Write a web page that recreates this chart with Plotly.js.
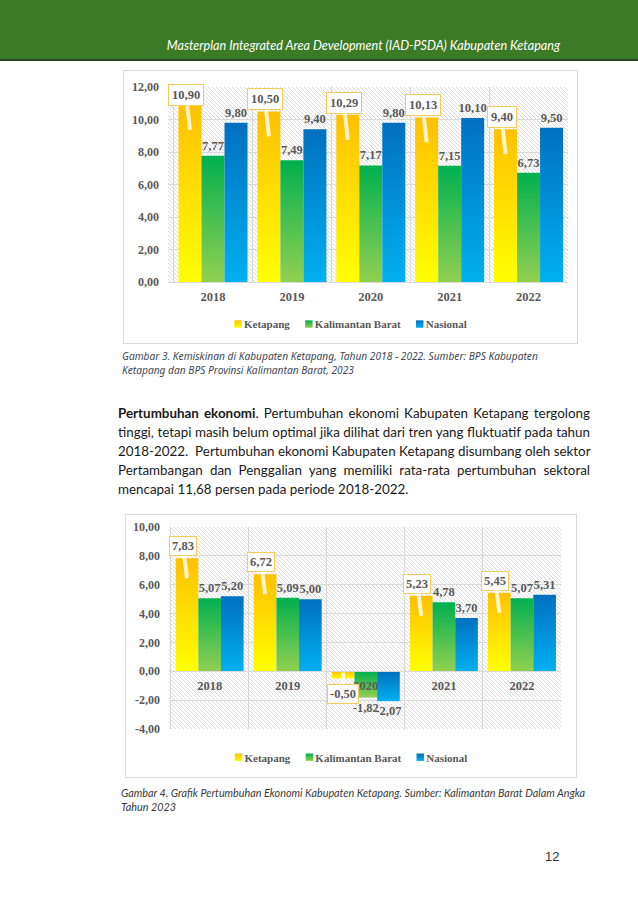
<!DOCTYPE html>
<html>
<head>
<meta charset="utf-8">
<script src="https://cdn.plot.ly/plotly-3.0.1.min.js"></script>
<style>
  html,body{margin:0;padding:0;background:#fff;}
  body{width:638px;height:902px;position:relative;overflow:hidden;}
  #hdr{position:absolute;left:0;top:0;width:638px;height:59px;background:#3c7b25;border-bottom:2px solid #2c432b;}
  #hdr span{position:absolute;right:78px;top:38px;color:#fff;font-family:Lato,sans-serif;font-style:italic;font-size:12.6px;white-space:nowrap;}
  .frame{position:absolute;border:1px solid #d9d9d9;box-sizing:border-box;background:#fff;}
  .plot{position:absolute;}
  .cap{position:absolute;white-space:nowrap;font-style:italic;}
  #cap1{left:122px;top:350px;font-family:"Noto Sans",sans-serif;font-size:10.2px;line-height:13.5px;color:#3e4852;}
  #cap2{left:121px;top:786px;font-family:Lato,sans-serif;font-size:10.8px;line-height:13.5px;color:#3a3a3a;}
  #para{position:absolute;left:118px;top:404px;width:472px;font-family:Lato,sans-serif;font-size:13.4px;line-height:19px;color:#1a1a1a;}
  #para div{text-align:justify;text-align-last:justify;white-space:nowrap;}
  #para div.last{text-align-last:left;}
  #pg{position:absolute;left:545px;top:849px;font-family:"Liberation Sans",Arial,sans-serif;font-size:13px;color:#333;}
</style>
</head>
<body>
<div id="hdr"><span>Masterplan Integrated Area Development (IAD-PSDA) Kabupaten Ketapang</span></div>

<div class="frame" style="left:123px;top:70px;width:455px;height:274px;"></div>
<div id="chart1" class="plot" style="left:123px;top:70px;width:455px;height:274px;"></div>

<div id="cap1" class="cap">Gambar 3. Kemiskinan di Kabupaten Ketapang, Tahun 2018 - 2022. Sumber: BPS Kabupaten<br>Ketapang dan BPS Provinsi Kalimantan Barat, 2023</div>

<div id="para">
  <div><b>Pertumbuhan ekonomi</b>. Pertumbuhan ekonomi Kabupaten Ketapang tergolong</div>
  <div>tinggi, tetapi masih belum optimal jika dilihat dari tren yang fluktuatif pada tahun</div>
  <div>2018-2022.&nbsp; Pertumbuhan ekonomi Kabupaten Ketapang disumbang oleh sektor</div>
  <div>Pertambangan dan Penggalian yang memiliki rata-rata pertumbuhan sektoral</div>
  <div class="last">mencapai 11,68 persen pada periode 2018-2022.</div>
</div>

<div class="frame" style="left:125px;top:514px;width:452px;height:264px;"></div>
<div id="chart2" class="plot" style="left:125px;top:514px;width:452px;height:264px;"></div>

<div id="cap2" class="cap">Gambar 4. Grafik Pertumbuhan Ekonomi Kabupaten Ketapang. Sumber: Kalimantan Barat Dalam Angka<br>Tahun 2023</div>

<div id="pg">12</div>

<script>
// ---------- DATA ----------
const years = ['2018', '2019', '2020', '2021', '2022'];
const seriesNames = ['Ketapang', 'Kalimantan Barat', 'Nasional'];

// Gambar 3: Kemiskinan (%)
const kemiskinanKetapang = [10.90, 10.50, 10.29, 10.13, 9.40];
const kemiskinanKalbar   = [7.77, 7.49, 7.17, 7.15, 6.73];
const kemiskinanNasional = [9.80, 9.40, 9.80, 10.10, 9.50];
const kemiskinanTicks    = [0, 2, 4, 6, 8, 10, 12];

// Gambar 4: Pertumbuhan ekonomi (%)
const pertumbuhanKetapang = [7.83, 6.72, -0.50, 5.23, 5.45];
const pertumbuhanKalbar   = [5.07, 5.09, -1.82, 4.78, 5.07];
const pertumbuhanNasional = [5.20, 5.00, -2.07, 3.70, 5.31];
const pertumbuhanTicks    = [-4, -2, 0, 2, 4, 6, 8, 10];

// ---------- STYLE ----------
const GRAD = [
  ['#ffc000', '#ffff00'],
  ['#00b050', '#92d050'],
  ['#0070c0', '#00b0f0']
];
const SERIF = '"Liberation Serif", "Times New Roman", serif';
const LABEL_FONT = {family: SERIF, size: 12.5, color: '#595959', weight: 'bold'};
const TICK_FONT  = {family: SERIF, size: 12, color: '#595959', weight: 'bold'};
const LEG_FONT   = {family: SERIF, size: 11, color: '#595959', weight: 'bold'};

const fmt = n => n.toFixed(2).replace('.', ',');

function buildChart(divId, key, vals, ticks, range, opts) {
  const gd = document.getElementById(divId);
  const traces = vals.map((v, i) => ({
    type: 'bar',
    name: seriesNames[i],
    x: years,
    y: v,
    marker: {color: GRAD[i][0], line: {width: 0}},
    text: v.map(fmt),
    texttemplate: '%{text}',
    textposition: i === 0 ? 'none' : 'outside',
    constraintext: 'none',
    cliponaxis: false,
    textfont: LABEL_FONT,
    hoverinfo: 'skip'
  }));

  const bargap = opts.bargap;
  const off = (1 - bargap) / 3;
  const annotations = vals[0].map((v, i) => {
    const neg = v < 0;
    return {
      x: i - off, y: v, xref: 'x', yref: 'y',
      text: fmt(v),
      font: LABEL_FONT,
      showarrow: true, arrowhead: 0, arrowwidth: 4,
      arrowcolor: 'rgba(255,255,255,0.8)',
      standoff: 0, startstandoff: 0,
      ax: neg ? 0 : opts.ax, ay: neg ? opts.negAy : opts.ay,
      yshift: neg ? opts.negShift : opts.shift,
      bgcolor: '#ffffff', bordercolor: '#f5cc55', borderwidth: 1, borderpad: opts.pad,
      align: 'center'
    };
  });

  const layout = {
    width: opts.w, height: opts.h,
    margin: opts.margin,
    paper_bgcolor: 'rgba(0,0,0,0)',
    plot_bgcolor: '#f2f2f2',
    separators: ',.',
    barmode: 'group',
    bargap: bargap,
    bargroupgap: 0,
    showlegend: true,
    legend: {orientation: 'h', x: 0.5, xanchor: 'center', y: opts.legY, yanchor: 'middle',
             font: LEG_FONT, traceorder: 'normal', bgcolor: 'rgba(0,0,0,0)'},
    xaxis: {
      type: 'category', tickson: 'boundaries', ticks: '', showgrid: true, gridcolor: '#d9d9d9', gridwidth: 1,
      showline: true, linecolor: '#d9d9d9', linewidth: 1,
      tickfont: LABEL_FONT, ticklabelstandoff: 3,
      anchor: opts.xFree ? 'free' : 'y', position: opts.xFree ? (0 - range[0]) / (range[1] - range[0]) : undefined,
      fixedrange: true
    },
    yaxis: {
      range: range, tickvals: ticks, ticktext: ticks.map(fmt), ticks: '',
      showgrid: true, gridcolor: '#d9d9d9', gridwidth: 1, zeroline: false,
      showline: false, tickfont: TICK_FONT, ticklabelstandoff: 8, fixedrange: true
    },
    annotations: annotations
  };

  return Plotly.newPlot(gd, traces, layout, {staticPlot: true, displayModeBar: false, responsive: false})
    .then(() => {
      decorate(gd, key, opts);
      gd.on && gd.on('plotly_afterplot', () => decorate(gd, key, opts));
      setTimeout(() => decorate(gd, key, opts), 60);
      setTimeout(() => decorate(gd, key, opts), 300);
    });
}

function decorate(gd, key, opts) {
  const svg = gd.querySelector('svg.main-svg');
  if (!svg) return;
  const NS = 'http://www.w3.org/2000/svg';
  let defs = svg.querySelector('defs');
  if (!defs) { defs = document.createElementNS(NS, 'defs'); svg.insertBefore(defs, svg.firstChild); }
  if (!document.getElementById(key + 'g0')) {
    GRAD.forEach((g, i) => {
      const lg = document.createElementNS(NS, 'linearGradient');
      lg.setAttribute('id', key + 'g' + i);
      lg.setAttribute('x1', '0'); lg.setAttribute('y1', '0'); lg.setAttribute('x2', '0'); lg.setAttribute('y2', '1');
      [[0, g[0]], [1, g[1]]].forEach(([o, c]) => {
        const s = document.createElementNS(NS, 'stop');
        s.setAttribute('offset', o); s.setAttribute('stop-color', c);
        lg.appendChild(s);
      });
      defs.appendChild(lg);
    });
    const pat = document.createElementNS(NS, 'pattern');
    pat.setAttribute('id', key + 'hatch');
    pat.setAttribute('patternUnits', 'userSpaceOnUse');
    pat.setAttribute('width', '4'); pat.setAttribute('height', '4');
    pat.innerHTML = '<rect width="4" height="4" fill="#ffffff"/>' +
      '<path d="M-1,-1 L5,5 M-1,3 L1,5 M3,-1 L5,1" stroke="#d2d2d2" stroke-width="0.8"/>';
    defs.appendChild(pat);
  }
  gd.querySelectorAll('.bglayer rect.bg').forEach(r => { r.style.fill = 'url(#' + key + 'hatch)'; });

  gd.querySelectorAll('.barlayer .trace.bars').forEach((t, i) => {
    t.querySelectorAll('path').forEach(p => { p.style.fill = 'url(#' + key + 'g' + i + ')'; });
  });

  // legend: small gradient squares next to their text, tight spacing, centred on chart
  const items = [...gd.querySelectorAll('g.legend g.traces')];
  if (!items.length) return;
  const parse = t => { const m = /translate\(\s*([-\d.e]+)[\s,]*([-\d.e]*)\s*\)/.exec(t || ''); return m ? [+m[1], +(m[2] || 0)] : [0, 0]; };
  let cur = 0;
  items.forEach((it, i) => {
    if (it.dataset.oy === undefined) it.dataset.oy = parse(it.getAttribute('transform'))[1];
    const ty = +it.dataset.oy + opts.legDy;
    const txt = it.querySelector('text.legendtext');
    const tX = +txt.getAttribute('x') || 40;
    const w = txt.getComputedTextLength();
    it.querySelectorAll('.legendpoints path').forEach(p => {
      p.setAttribute('transform', 'translate(' + (tX - 6) + ',0) scale(0.62)');
      p.style.fill = 'url(#' + key + 'g' + i + ')';
      p.style.stroke = 'none';
      p.style.opacity = 1;
    });
    it.setAttribute('transform', 'translate(' + cur + ',' + ty + ')');
    // next item: its marker starts legGap px after this item's text
    cur += w + opts.legGap + 10;
  });
  const gr = gd.getBoundingClientRect();
  let minL = Infinity, maxR = -Infinity;
  items.forEach(it => {
    it.querySelectorAll('.legendpoints path').forEach(p => { minL = Math.min(minL, p.getBoundingClientRect().left); });
    maxR = Math.max(maxR, it.querySelector('text.legendtext').getBoundingClientRect().right);
  });
  const center = (minL + maxR) / 2 - gr.left;
  const delta = opts.w / 2 - center;
  items.forEach(it => {
    const [tx, ty] = parse(it.getAttribute('transform'));
    it.setAttribute('transform', 'translate(' + (tx + delta) + ',' + ty + ')');
  });
  gd.querySelectorAll('g.legend [clip-path]').forEach(el => el.removeAttribute('clip-path'));
}

buildChart('chart1', 'c1',
  [kemiskinanKetapang, kemiskinanKalbar, kemiskinanNasional], kemiskinanTicks, [0, 12],
  {w: 455, h: 274, margin: {l: 45, r: 10, t: 17, b: 57}, bargap: 0.125, legY: -0.19, legGap: 15, legDy: 5,
   ax: -4, ay: -37, shift: -25, negAy: 22, negShift: 6, pad: 3, xFree: false});

buildChart('chart2', 'c2',
  [pertumbuhanKetapang, pertumbuhanKalbar, pertumbuhanNasional], pertumbuhanTicks, [-4, 10],
  {w: 452, h: 264, margin: {l: 44, r: 16, t: 13, b: 43}, bargap: 0.13, legY: -0.11, legGap: 15, legDy: 6,
   ax: -4, ay: -32, shift: -20, negAy: 21, negShift: 6, pad: 2, xFree: true});
</script>
</body>
</html>
